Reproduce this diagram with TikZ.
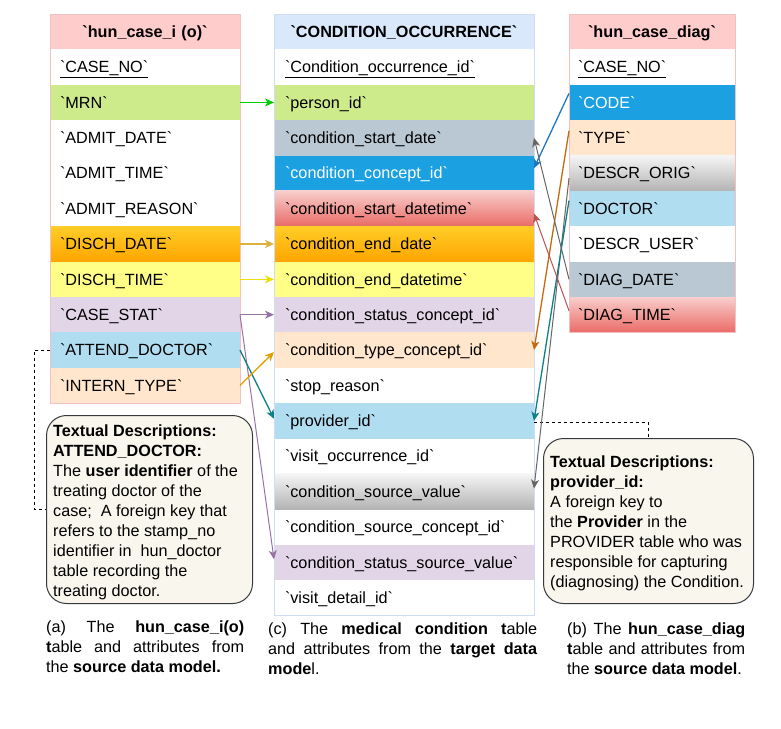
\documentclass[tikz,border=0pt]{standalone}
\usepackage{fontspec}
\newfontfamily\af{Liberation Sans}
\usetikzlibrary{positioning,arrows.meta,calc}
\definecolor{pinkH}{HTML}{FFCCCC}
\definecolor{pinkLine}{HTML}{F2C2C2}
\definecolor{blueH}{HTML}{DAE8FC}
\definecolor{blueLine}{HTML}{D0DEF5}
\definecolor{greenR}{HTML}{CDEB8B}
\definecolor{grayR}{HTML}{BAC8D3}
\definecolor{blueR}{HTML}{1BA1E2}
\definecolor{redT}{HTML}{F8CECC}
\definecolor{redB}{HTML}{EA6B66}
\definecolor{orT}{HTML}{FFCD28}
\definecolor{orB}{HTML}{FFA500}
\definecolor{yelR}{HTML}{FFFF88}
\definecolor{purR}{HTML}{E1D5E7}
\definecolor{peachR}{HTML}{FFE6CC}
\definecolor{ltblueR}{HTML}{B1DDF0}
\definecolor{gryT}{HTML}{F5F5F5}
\definecolor{gryB}{HTML}{B3B3B3}
\definecolor{calloutFill}{HTML}{F9F7ED}
\definecolor{calloutLine}{HTML}{36393D}
\definecolor{cGreen}{HTML}{00CC00}
\definecolor{cGold}{HTML}{DDAF3C}
\definecolor{cYel}{HTML}{EEDD11}
\definecolor{cPur}{HTML}{9673A6}
\definecolor{cTeal}{HTML}{0E8088}
\definecolor{cOr}{HTML}{E0A000}
\definecolor{cBlue}{HTML}{1F78C1}
\definecolor{cBrown}{HTML}{C46A0A}
\definecolor{cGray}{HTML}{666666}
\definecolor{cRed}{HTML}{B85450}
\newcommand{\basefont}{\af\fontsize{16.2}{20}\selectfont}
\tikzset{
  cell/.style={inner xsep=10pt, inner ysep=0pt, outer sep=0pt, minimum height=35.375pt,
    text height=11.6pt, text depth=0pt, align=left},
  cellL/.style={cell, text width=170pt},
  cellM/.style={cell, inner xsep=11pt, text width=238pt},
  cellR/.style={cell, inner xsep=9pt, text width=148pt},
  hdr/.style={align=center, font=\basefont\bfseries},
  arr/.style={line width=1.3pt, -{Stealth[length=9pt,width=8pt,inset=2.5pt]}},
  dashline/.style={line width=1pt, dash pattern=on 3pt off 3pt, black},
  calloutbox/.style={draw=calloutLine, fill=calloutFill, rounded corners=20pt,
    line width=1pt, inner sep=0pt, anchor=north west},
}
\begin{document}
\begin{tikzpicture}[x=1pt, y=-1pt, font=\basefont]
\useasboundingbox (0,0) rectangle (781,728);
% ---------- left table
\node[cellL, hdr, fill=pinkH, anchor=north west] (lH) at (50,14) {`hun\_case\_i (o)`};
\node[cellL, below=0pt of lH] (lCN) {\underline{`CASE\_NO`}};
\node[cellL, fill=greenR, below=0pt of lCN] (lMRN) {`MRN`};
\node[cellL, below=0pt of lMRN] (lADD) {`ADMIT\_DATE`};
\node[cellL, below=0pt of lADD] (lADT) {`ADMIT\_TIME`};
\node[cellL, below=0pt of lADT] (lAR) {`ADMIT\_REASON`};
\node[cellL, top color=orT, bottom color=orB, below=0pt of lAR] (lDD) {`DISCH\_DATE`};
\node[cellL, fill=yelR, below=0pt of lDD] (lDT) {`DISCH\_TIME`};
\node[cellL, fill=purR, below=0pt of lDT] (lCS) {`CASE\_STAT`};
\node[cellL, fill=ltblueR, below=0pt of lCS] (lATD) {`ATTEND\_DOCTOR`};
\node[cellL, fill=peachR, below=0pt of lATD] (lIT) {`INTERN\_TYPE`};
\draw[pinkLine, line width=1pt] (lH.north west) rectangle (lIT.south east);
% ---------- middle table
\node[cellM, hdr, fill=blueH, anchor=north west] (mH) at (274,14) {`CONDITION\_OCCURRENCE`};
\node[cellM, below=0pt of mH] (mCO) {\underline{`Condition\_occurrence\_id`}};
\node[cellM, fill=greenR, below=0pt of mCO] (mPI) {`person\_id`};
\node[cellM, fill=grayR, below=0pt of mPI] (mCSD) {`condition\_start\_date`};
\node[cellM, fill=blueR, text=white, below=0pt of mCSD] (mCCI) {`condition\_concept\_id`};
\node[cellM, top color=redT, bottom color=redB, below=0pt of mCCI] (mCSDT) {`condition\_start\_datetime`};
\node[cellM, top color=orT, bottom color=orB, below=0pt of mCSDT] (mCED) {`condition\_end\_date`};
\node[cellM, fill=yelR, below=0pt of mCED] (mCEDT) {`condition\_end\_datetime`};
\node[cellM, fill=purR, below=0pt of mCEDT] (mCSCI) {`condition\_status\_concept\_id`};
\node[cellM, fill=peachR, below=0pt of mCSCI] (mCTCI) {`condition\_type\_concept\_id`};
\node[cellM, below=0pt of mCTCI] (mSR) {`stop\_reason`};
\node[cellM, fill=ltblueR, below=0pt of mSR] (mPR) {`provider\_id`};
\node[cellM, below=0pt of mPR] (mVO) {`visit\_occurrence\_id`};
\node[cellM, top color=gryT, bottom color=gryB, below=0pt of mVO] (mCSV) {`condition\_source\_value`};
\node[cellM, below=0pt of mCSV] (mCSCID) {`condition\_source\_concept\_id`};
\node[cellM, fill=purR, below=0pt of mCSCID] (mCSSV) {`condition\_status\_source\_value`};
\node[cellM, below=0pt of mCSSV] (mVD) {`visit\_detail\_id`};
\draw[blueLine, line width=1pt] (mH.north west) rectangle (mVD.south east);
% ---------- right table
\node[cellR, hdr, fill=pinkH, anchor=north west] (rH) at (569,14) {`hun\_case\_diag`};
\node[cellR, below=0pt of rH] (rCN) {\underline{`CASE\_NO`}};
\node[cellR, fill=blueR, text=white, below=0pt of rCN] (rCODE) {`CODE`};
\node[cellR, fill=peachR, below=0pt of rCODE] (rTYPE) {`TYPE`};
\node[cellR, top color=gryT, bottom color=gryB, below=0pt of rTYPE] (rDO) {`DESCR\_ORIG`};
\node[cellR, fill=ltblueR, below=0pt of rDO] (rDOC) {`DOCTOR`};
\node[cellR, below=0pt of rDOC] (rDU) {`DESCR\_USER`};
\node[cellR, fill=grayR, below=0pt of rDU] (rDD) {`DIAG\_DATE`};
\node[cellR, top color=redT, bottom color=redB, below=0pt of rDD] (rDT) {`DIAG\_TIME`};
\draw[pinkLine, line width=1pt] (rH.north west) rectangle (rDT.south east);
% ---------- callouts
\node[calloutbox, minimum width=206pt, minimum height=188pt] (cA) at (46,415) {};
\node[anchor=base west, inner sep=0pt] (cAt) at (53,436.8) {\parbox[t]{200pt}{%
\textbf{Textual Descriptions:}\\
\textbf{ATTEND\_DOCTOR:}\\
The \textbf{user identifier} of the\\
treating doctor of the\\
case;\ \ A foreign key that\\
refers to the stamp\_no\\
identifier in\ \ hun\_doctor\\
table recording the\\
treating doctor.}};
\node[calloutbox, minimum width=210pt, minimum height=165pt] (cB) at (543,438) {};
\node[anchor=base west, inner sep=0pt] (cBt) at (550,467.8) {\parbox[t]{200pt}{%
\textbf{Textual Descriptions:}\\
\textbf{provider\_id:}\\
A foreign key to\\
the \textbf{Provider} in the\\
PROVIDER table who was\\
responsible for capturing\\
(diagnosing) the Condition.}};
% ---------- dashed links
\draw[dashline] (lATD.west) -- ([xshift=-16pt]lATD.west) |- (cA.west);
\draw[dashline] ([yshift=-1.5pt]mPR.east) -| (cB.north);
% ---------- connectors
\draw[arr, cGreen] (lMRN.east) -- (mPI.west);
\draw[arr, cGold] (lDD.east) -- (mCED.west);
\draw[arr, cYel] (lDT.east) -- (mCEDT.west);
\draw[arr, cPur] (lCS.east) -- (mCSCI.west);
\draw[arr, cPur, line width=1pt] (lCS.east) -- ([yshift=3pt]mCSSV.west);
\draw[arr, cTeal] (lATD.east) -- ([yshift=2pt]mPR.west);
\draw[arr, cOr] (lIT.east) -- ([yshift=-2pt]mCTCI.west);
\draw[arr, cBlue] ([yshift=9pt]rCODE.west) -- ([yshift=5pt]mCCI.east);
\draw[arr, cBrown] ([yshift=7pt]rTYPE.west) -- (mCTCI.east);
\draw[arr, cGray, line width=1pt] ([yshift=-5pt]rDO.west) -- ([yshift=3pt]mCSV.east);
\draw[arr, cTeal] ([yshift=8pt]rDOC.west) -- (mPR.east);
\draw[arr, cGray, line width=1pt] (rDD.west) -- (mCSD.east);
\draw[arr, cRed, line width=1pt] ([yshift=4pt]rDT.west) -- ([yshift=-5pt]mCSDT.east);
% ---------- captions
\node[anchor=base west, inner sep=0pt] (capA) at (46,632) {\parbox[t]{198pt}{%
\makebox[198pt][s]{(a) The \textbf{hun\_case\_i(o)}}\\
\makebox[198pt][s]{\textbf{t}able and attributes from}\\
the \textbf{source data model.}}};
\node[anchor=base west, inner sep=0pt] (capC) at (268,634) {\parbox[t]{269pt}{%
\makebox[269pt][s]{(c) The \textbf{medical condition t}able}\\
\makebox[269pt][s]{and attributes from the \textbf{target data}}\\
\textbf{mode}l.}};
\node[anchor=base west, inner sep=0pt] (capB) at (567,634) {\parbox[t]{178pt}{%
\makebox[178pt][s]{(b) The \textbf{hun\_case\_diag}}\\
\makebox[178pt][s]{\textbf{t}able and attributes from}\\
the \textbf{source data model}.}};
\end{tikzpicture}
\end{document}
